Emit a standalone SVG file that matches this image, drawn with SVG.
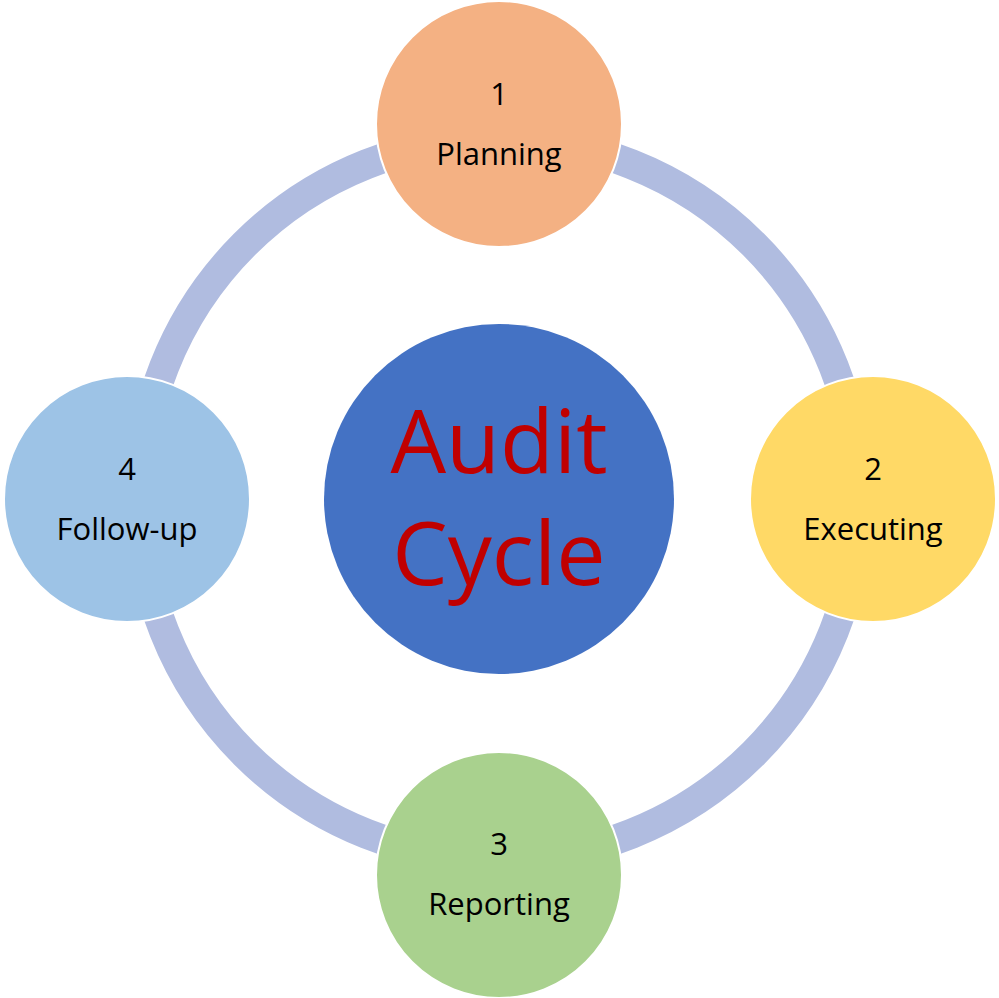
<svg xmlns="http://www.w3.org/2000/svg" width="999" height="998" viewBox="0 0 999 998">
<style>
.n{stroke:#ffffff;stroke-width:2}
.t{font-family:"Open Sans","Liberation Sans",sans-serif;font-size:31px;fill:#000;text-anchor:middle}
.c{font-family:"Open Sans","Liberation Sans",sans-serif;font-size:88px;fill:#C00000;text-anchor:middle}
</style>
<rect width="999" height="998" fill="#ffffff"/>
<g id="connectors"><circle cx="499" cy="499" r="360" fill="none" stroke="#B0BCE0" stroke-width="30"/></g>
<g id="center"><circle cx="499" cy="499" r="175" fill="#4472C4"/><text class="c" x="499" y="473">Audit</text><text class="c" x="499" y="585">Cycle</text></g>
<g id="n1"><circle class="n" cx="499" cy="124" r="123" fill="#F4B183"/><text class="t" x="499" y="105">1</text><text class="t" x="499" y="165">Planning</text></g>
<g id="n2"><circle class="n" cx="873" cy="499" r="123" fill="#FFD966"/><text class="t" x="873" y="480">2</text><text class="t" x="873" y="540">Executing</text></g>
<g id="n3"><circle class="n" cx="499" cy="875" r="123" fill="#A9D18E"/><text class="t" x="499" y="855">3</text><text class="t" x="499" y="915">Reporting</text></g>
<g id="n4"><circle class="n" cx="127" cy="499" r="123" fill="#9DC3E6"/><text class="t" x="127" y="480">4</text><text class="t" x="127" y="540">Follow-up</text></g>
</svg>
